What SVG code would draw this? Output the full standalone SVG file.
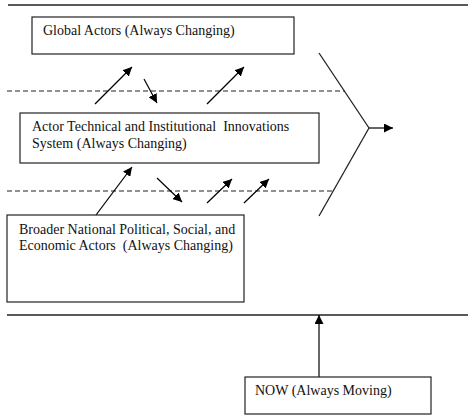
<svg xmlns="http://www.w3.org/2000/svg" width="474" height="420" viewBox="0 0 474 420">
<defs>
<marker id="ah" viewBox="0 0 10 10" refX="10" refY="5" markerWidth="9" markerHeight="9" markerUnits="userSpaceOnUse" orient="auto">
<path d="M0,0 L10,5 L0,10 z" fill="#000"/>
</marker>
</defs>
<style>
.box{fill:#fff;stroke:#222;stroke-width:1.2}
.t{font-family:"Liberation Serif",serif;font-size:14px;fill:#111;white-space:pre}
.ln{stroke:#222;stroke-width:1.3;fill:none}
.dash{stroke:#222;stroke-width:1.1;stroke-dasharray:5,3;fill:none}
.arr{stroke:#000;stroke-width:1.2;fill:none;marker-end:url(#ah)}
</style>
<rect width="474" height="420" fill="#fff"/>
<g id="connectors">
<line class="ln" x1="8" y1="5" x2="468" y2="5"/>
<line class="dash" x1="7" y1="91" x2="345" y2="91"/>
<line class="dash" x1="7" y1="191" x2="333" y2="191"/>
<line class="ln" x1="7" y1="315" x2="468" y2="315"/>
<line class="ln" x1="319" y1="53" x2="369" y2="128"/>
<line class="ln" x1="369" y1="128" x2="319" y2="216"/>
<line class="arr" x1="369" y1="128" x2="393" y2="128"/>
<line class="arr" x1="95" y1="104" x2="132" y2="67"/>
<line class="arr" x1="144" y1="79" x2="157" y2="103"/>
<line class="arr" x1="207" y1="104" x2="244" y2="67"/>
<line class="arr" x1="96" y1="215" x2="132" y2="167"/>
<line class="arr" x1="157" y1="178" x2="182" y2="202"/>
<line class="arr" x1="207" y1="203" x2="232" y2="179"/>
<line class="arr" x1="244" y1="203" x2="269" y2="179"/>
<line class="arr" x1="319" y1="377" x2="319" y2="315"/>
</g>
<g id="global">
<rect class="box" x="32" y="17" width="262" height="37"/>
<text class="t" x="43" y="35">Global Actors (Always Changing)</text>
</g>
<g id="actor">
<rect class="box" x="20" y="113" width="299" height="50"/>
<text class="t" x="32" y="131" xml:space="preserve">Actor Technical and Institutional  Innovations</text>
<text class="t" x="32" y="148">System (Always Changing)</text>
</g>
<g id="national">
<rect class="box" x="7" y="215" width="237" height="87"/>
<text class="t" x="19" y="234">Broader National Political, Social, and</text>
<text class="t" x="19" y="250" xml:space="preserve">Economic Actors  (Always Changing)</text>
</g>
<g id="now">
<rect class="box" x="245" y="377" width="186" height="37"/>
<text class="t" x="255" y="395">NOW (Always Moving)</text>
</g>
</svg>
